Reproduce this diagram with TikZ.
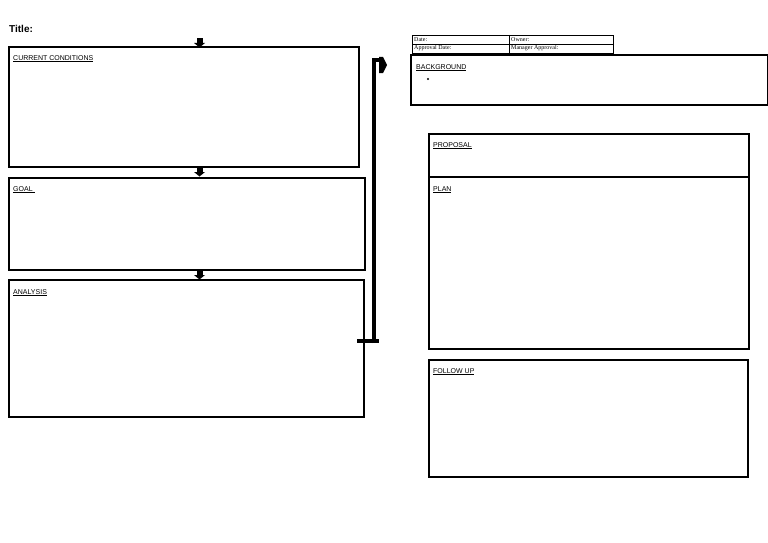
\documentclass[tikz,border=0pt]{standalone}
\usepackage{fontspec}
\setmainfont{Liberation Sans}
\newfontfamily\serif{Liberation Serif}
\begin{document}
\begin{tikzpicture}[x=1pt,y=-1pt,
  box/.style={draw,line width=1.2pt},
  lbl/.style={anchor=north west,inner sep=0pt,font=\fontsize{7}{8}\selectfont},
  cell/.style={anchor=west,inner sep=0pt,font=\serif\fontsize{6}{6}\selectfont},
  thick line/.style={line width=5pt}]
\useasboundingbox (0,0) rectangle (768,543);
\node[anchor=west,inner sep=0pt,font=\bfseries\fontsize{10}{12}\selectfont] (title) at (9,29) {Title:};
\draw[box] (9,47) rectangle (359,167); \node[lbl] (cc) at (13,55) {\underline{CURRENT CONDITIONS}};
\draw[box] (9,178) rectangle (365,270); \node[lbl] (goal) at (13,186) {\underline{GOAL }};
\draw[box] (9,280) rectangle (364,417); \node[lbl] (an) at (13,289) {\underline{ANALYSIS}};
\foreach \y in {38,167,270}{
  \fill (196.5,\y) rectangle (202.5,\y+6);
  \fill (194,\y+5) -- (205,\y+5) -- (199.5,\y+9.5) -- cycle;}
% big connector
\draw[line width=4pt] (374,343) -- (374,60) -- (380,60);
\fill (379,57) -- (383,57) -- (387,65) -- (383,73) -- (379,73) -- cycle;
\draw[line width=4pt] (357,341) -- (379,341);
% table
\draw[line width=0.6pt] (412,35) rectangle (613,53) (412,44) -- (613,44) (509,35) -- (509,53);
\node[cell] (d) at (414,39.5) {Date:};
\node[cell] (o) at (511,39.5) {Owner:};
\node[cell] (ad) at (414,48.5) {Approval Date:};
\node[cell] (ma) at (511,48.5) {Manager Approval:};
\draw[box] (411,55) rectangle (768,105); \node[lbl] (bg) at (416,64) {\underline{BACKGROUND}};
\fill (428,79) circle (1.1);
\draw[box] (429,134) rectangle (749,349) (429,177) -- (749,177);
\node[lbl] (pr) at (433,142) {\underline{PROPOSAL}};
\node[lbl] (pl) at (433,186) {\underline{PLAN}};
\draw[box] (429,360) rectangle (748,477); \node[lbl] (fu) at (433,368) {\underline{FOLLOW UP}};
\end{tikzpicture}
\end{document}
